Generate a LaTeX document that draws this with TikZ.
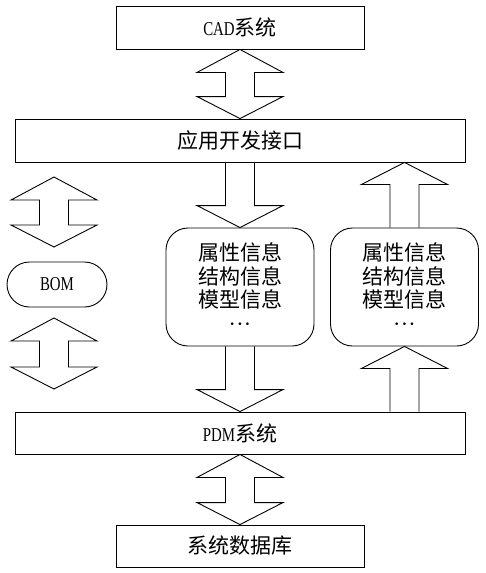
\documentclass[tikz,border=0pt]{standalone}
\usepackage{fontspec}
\usepackage{graphicx}
\setmainfont{Liberation Serif}
\newfontfamily\cjk{Noto Sans CJK SC}
\usetikzlibrary{calc}
\newcommand\lat[1]{\scalebox{0.76}[1]{\rmfamily\fontsize{19.6}{20}\selectfont #1}}
\newcommand\mydots{{\rmfamily\fontsize{22}{23.5}\selectfont ·\kern0.3pt·\kern0.3pt·}}
\tikzset{
  blk/.style={draw=black, line width=0.9pt, line join=miter},
  boxnode/.style={draw=black, line width=0.9pt, rectangle, inner sep=0pt, font=\cjk\fontsize{21}{23.5}\selectfont},
  infonode/.style={boxnode, rounded corners=22pt, align=center, minimum width=148pt, minimum height=118pt},
}
% double block arrow: #1 top tip, #2 bottom tip
\newcommand\DArrow[2]{%
  \draw[blk] let \p1=#1, \p2=#2 in
   (\x1,\y1) -- (\x1+43pt,\y1-23pt) -- (\x1+14.5pt,\y1-23pt) -- (\x1+14.5pt,\y2+22pt)
   -- (\x1+43pt,\y2+22pt) -- (\x1,\y2) -- (\x1-43pt,\y2+22pt) -- (\x1-14.5pt,\y2+22pt)
   -- (\x1-14.5pt,\y1-23pt) -- (\x1-43pt,\y1-23pt) -- cycle;}
% down block arrow: #1 tail (top), #2 tip (bottom)
\newcommand\DownArrow[2]{%
  \draw[blk] let \p1=#1, \p2=#2 in
   (\x1-14.5pt,\y1) -- (\x1-14.5pt,\y2+22pt) -- (\x1-43pt,\y2+22pt) -- (\x1,\y2)
   -- (\x1+43pt,\y2+22pt) -- (\x1+14.5pt,\y2+22pt) -- (\x1+14.5pt,\y1);}
% up block arrow: #1 tail (bottom), #2 tip (top)
\newcommand\UpArrow[2]{%
  \draw[blk] let \p1=#1, \p2=#2 in
   (\x1-14.5pt,\y1) -- (\x1-14.5pt,\y2-22pt) -- (\x1-43pt,\y2-22pt) -- (\x1,\y2)
   -- (\x1+43pt,\y2-22pt) -- (\x1+14.5pt,\y2-22pt) -- (\x1+14.5pt,\y1);}
\begin{document}
\begin{tikzpicture}[x=1pt,y=-1pt]
\useasboundingbox[fill=white] (0,0) rectangle (486,573);
\node[boxnode, minimum width=248pt, minimum height=43pt] (cad) at (240,27.5) {\lat{CAD}系统};
\node[boxnode, minimum width=450pt, minimum height=43pt] (api) at (240,140.5) {应用开发接口};
\node[boxnode, minimum width=450pt, minimum height=42pt] (pdm) at (240,433) {\lat{PDM}系统};
\node[boxnode, minimum width=248pt, minimum height=42pt] (db) at (240,546) {系统数据库};
\node[boxnode, rounded corners=22.5pt, minimum width=100pt, minimum height=45pt] (bom) at (57,284.5) {\lat{BOM}};
\node[infonode] (info1) at (240,287) {属性信息\\结构信息\\模型信息\\\mydots};
\node[infonode] (info2) at (404.5,287) {属性信息\\结构信息\\模型信息\\\mydots};
\coordinate (l1t) at (54,177);
\coordinate (l1b) at (54,247);
\coordinate (l2t) at (54,318);
\coordinate (l2b) at (54,389);
\DArrow{(cad.south)}{(api.north)}
\DArrow{(pdm.south)}{(db.north)}
\DArrow{(l1t)}{(l1b)}
\DArrow{(l2t)}{(l2b)}
\DownArrow{(api.south)}{(info1.north)}
\DownArrow{(info1.south)}{(pdm.north)}
\UpArrow{(info2.north)}{(api.south -| info2.north)}
\UpArrow{(pdm.north -| info2.south)}{(info2.south)}
\end{tikzpicture}
\end{document}
